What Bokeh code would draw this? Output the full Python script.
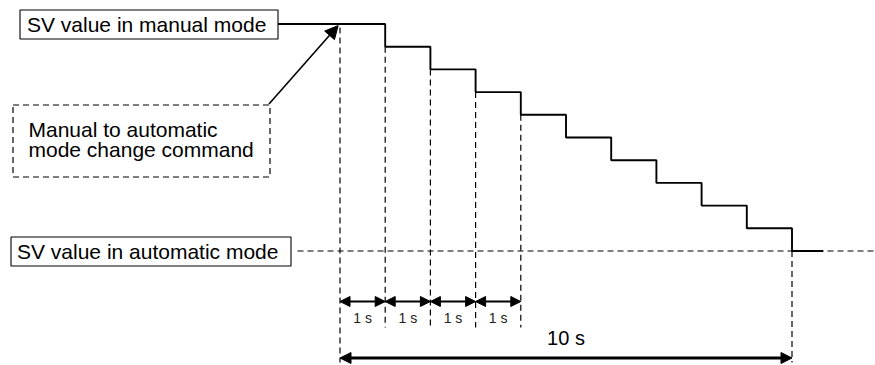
from bokeh.plotting import figure
from bokeh.models import Range1d, Arrow, NormalHead
from bokeh.core.properties import value
from bokeh.embed import file_html
from bokeh.resources import INLINE

# ---------------- data ----------------
step_times = [1, 2, 3, 4, 5, 6, 7, 8, 9, 10]        # s, instants of each SV step
sv_levels = [10, 9, 8, 7, 6, 5, 4, 3, 2, 1, 0]      # SV before first step, then after each step
manual_sv = 10
auto_sv = 0
change_time = 0                                      # mode change command instant
interval_starts = [0, 1, 2, 3]
interval_ends = [1, 2, 3, 4]
interval_labels = ["1 s", "1 s", "1 s", "1 s"]
total_start = 0
total_end = 10
total_label = "10 s"
manual_label = "SV value in manual mode"
auto_label = "SV value in automatic mode"
command_lines = ["Manual to automatic", "mode change command"]

# ---------------- layout (screen mapping) ----------------
OFF = 0
W, H = 875, 365
X0, PXS = 339.5, 45.2      # screenshot px of t=0, px per second
Y0, PXL = 250.5, 22.7      # screenshot px of level 0, px per level
TXT = 8.5                  # svg text baseline correction (px)


def sx(px):
    return (px - X0) / PXS


def sy(py):
    return (Y0 - py) / PXL


FONT = value("Liberation Sans")
DASH = dict(line_color="black", line_width=1.2, line_dash="6 4")

p = figure(width=W, height=H, output_backend="svg", toolbar_location=None,
           x_range=Range1d(sx(OFF), sx(OFF + W)),
           y_range=Range1d(sy(OFF + H), sy(OFF)),
           x_axis_type=None, y_axis_type=None, min_border=0,
           outline_line_color=None, border_fill_color="white",
           background_fill_color="white")
p.grid.visible = False

# ---------------- auto-mode dashed horizontal ----------------
p.segment(x0=[sx(297)], y0=[auto_sv], x1=[sx(OFF + W + 5)], y1=[auto_sv], **DASH)

# ---------------- dashed verticals ----------------
main_x = [change_time, total_end]
main_top = [manual_sv - 0.15, auto_sv]
p.segment(x0=main_x, y0=main_top, x1=main_x, y1=[sy(362)] * 2, **DASH)
tick_x = interval_ends
tick_top = [sv_levels[i] for i in interval_ends]
p.segment(x0=tick_x, y0=tick_top, x1=tick_x, y1=[sy(327)] * len(tick_x), **DASH)

# ---------------- step line ----------------
xs = [sx(277)]
ys = [sv_levels[0]]
for i, t in enumerate(step_times):
    xs += [t, t]
    ys += [sv_levels[i], sv_levels[i + 1]]
xs.append(total_end + 0.69)
ys.append(sv_levels[-1])
p.line(xs, ys, line_color="black", line_width=1.9)

# ---------------- labelled boxes ----------------
p.quad(left=[sx(19.5), sx(10.5)], right=[sx(277.5), sx(290.5)],
       top=[manual_sv + 14 / PXL, auto_sv + 14 / PXL],
       bottom=[manual_sv - 15 / PXL, auto_sv - 15 / PXL],
       fill_color="white", line_color="black", line_width=1.1)
p.text(x=[sx(26.5), sx(16.5)],
       y=[manual_sv - (9 - TXT) / PXL, auto_sv - (9 - TXT) / PXL],
       text=[manual_label, auto_label], text_font=FONT, text_font_size="21px",
       text_baseline="alphabetic", text_align="left", text_color="black")

# dashed command box
p.quad(left=[sx(12.5)], right=[sx(269.5)], top=[sy(104.5)], bottom=[sy(176.5)],
       fill_color=None, **DASH)
p.text(x=[sx(28), sx(28)], y=[sy(137 - TXT), sy(157.5 - TXT)], text=command_lines,
       text_font=FONT, text_font_size="21px", text_baseline="alphabetic",
       text_align="left", text_color="black")

# pointer arrow
p.add_layout(Arrow(x_start=sx(268.5), y_start=sy(103.5),
                   x_end=change_time - 0.04, y_end=manual_sv - 0.07,
                   line_color="black", line_width=1.6,
                   end=NormalHead(size=13, fill_color="black", line_color="black", line_width=1)))

# ---------------- 1 s interval arrows ----------------
y_int = sy(301)
for a, b in zip(interval_starts, interval_ends):
    p.add_layout(Arrow(x_start=a, y_start=y_int, x_end=b, y_end=y_int,
                       line_color="black", line_width=2.2,
                       start=NormalHead(size=10, fill_color="black", line_color="black", line_width=1),
                       end=NormalHead(size=10, fill_color="black", line_color="black", line_width=1)))
p.text(x=[(a + b) / 2 for a, b in zip(interval_starts, interval_ends)],
       y=[sy(324 - 6.5)] * len(interval_labels), text=interval_labels,
       text_font=FONT, text_font_size="14px", text_baseline="alphabetic",
       text_align="center", text_color="#222222")

# ---------------- 10 s arrow ----------------
y_tot = sy(357.5)
p.add_layout(Arrow(x_start=total_start, y_start=y_tot, x_end=total_end, y_end=y_tot,
                   line_color="black", line_width=2.8,
                   start=NormalHead(size=11, fill_color="black", line_color="black", line_width=1),
                   end=NormalHead(size=11, fill_color="black", line_color="black", line_width=1)))
p.text(x=[(total_start + total_end) / 2], y=[sy(346 - TXT)], text=[total_label],
       text_font=FONT, text_font_size="20px", text_baseline="alphabetic",
       text_align="center", text_color="black")

open("out.html", "w").write(file_html(p, INLINE))
